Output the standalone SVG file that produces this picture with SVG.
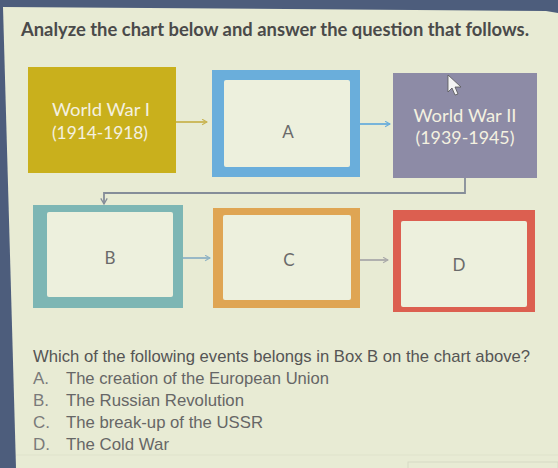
<svg xmlns="http://www.w3.org/2000/svg" width="558" height="468" viewBox="0 0 558 468">
<defs>
<style>
.box{font-family:Lato,"Noto Sans","Liberation Sans",sans-serif;font-size:18px;}
.lbl{fill:#6a6a6a;text-anchor:middle;font-size:17px;}
.wht{fill:#f4f1e0;}
.inner{fill:#edf0dd;}
.q{font-family:"Liberation Sans",Arial,sans-serif;font-size:17px;}
.conn{fill:none;stroke-width:1.8;}
</style>
<marker id="mGold" viewBox="0 0 10 10" refX="9" refY="5" markerWidth="7" markerHeight="7" markerUnits="userSpaceOnUse" orient="auto"><path d="M2,1 L9,5 L2,9" fill="none" stroke="#c9b552" stroke-width="1.6"/></marker>
<marker id="mBlue" viewBox="0 0 10 10" refX="9" refY="5" markerWidth="7" markerHeight="7" markerUnits="userSpaceOnUse" orient="auto"><path d="M2,1 L9,5 L2,9" fill="none" stroke="#6aaedb" stroke-width="1.6"/></marker>
<marker id="mGray" viewBox="0 0 10 10" refX="9" refY="5" markerWidth="8" markerHeight="8" markerUnits="userSpaceOnUse" orient="auto"><path d="M2,1 L9,5 L2,9" fill="none" stroke="#858d99" stroke-width="1.6"/></marker>
<marker id="mTeal" viewBox="0 0 10 10" refX="9" refY="5" markerWidth="7" markerHeight="7" markerUnits="userSpaceOnUse" orient="auto"><path d="M2,1 L9,5 L2,9" fill="none" stroke="#8fb3c4" stroke-width="1.6"/></marker>
<marker id="mLt" viewBox="0 0 10 10" refX="9" refY="5" markerWidth="7" markerHeight="7" markerUnits="userSpaceOnUse" orient="auto"><path d="M2,1 L9,5 L2,9" fill="none" stroke="#aaaaaa" stroke-width="1.6"/></marker>
</defs>
<!-- screen frame -->
<rect x="0" y="0" width="558" height="468" fill="#4d5d7c"/>
<polygon points="3,7 546,11 558,13 558,468 16,468" fill="#e8ebd4"/>
<line x1="16" y1="455" x2="558" y2="455" stroke="#dfe2cb" stroke-width="1"/>
<rect x="408" y="462" width="150" height="10" fill="none" stroke="#d6d9c4" stroke-width="1"/>

<text x="21" y="36" font-family="Lato,'Noto Sans','Liberation Sans',sans-serif" font-weight="bold" font-size="18" fill="#4a4a4a" textLength="508" lengthAdjust="spacingAndGlyphs">Analyze the chart below and answer the question that follows.</text>

<g id="connectors">
<line class="conn" x1="176" y1="122" x2="207" y2="122" stroke="#c9b552" marker-end="url(#mGold)"/>
<line class="conn" x1="360" y1="124" x2="390" y2="124" stroke="#6aaedb" marker-end="url(#mBlue)"/>
<polyline class="conn" points="465,178 465,193 104,193 104,204" stroke="#858d99" marker-end="url(#mGray)"/>
<line class="conn" x1="183" y1="258" x2="210" y2="258" stroke="#8fb3c4" marker-end="url(#mTeal)"/>
<line class="conn" x1="360" y1="260" x2="388" y2="260" stroke="#aaaaaa" marker-end="url(#mLt)"/>
</g>

<g id="ww1" class="box">
<rect x="28" y="67" width="148" height="106" fill="#c9b01c"/>
<text class="wht" x="52" y="116" textLength="98" lengthAdjust="spacingAndGlyphs">World War I</text>
<text class="wht" x="52" y="139" textLength="96" lengthAdjust="spacingAndGlyphs">(1914-1918)</text>
</g>

<g id="boxA" class="box">
<rect x="212" y="70" width="148" height="107" fill="#6aaedb"/>
<rect class="inner" x="224" y="80" width="126" height="87" rx="2"/>
<text class="lbl" x="288" y="138">A</text>
</g>

<g id="ww2" class="box">
<rect x="393" y="73" width="144" height="105" fill="#8d8ba6"/>
<text class="wht" x="465" y="122" text-anchor="middle" textLength="103" lengthAdjust="spacingAndGlyphs" fill="#f2f2f2">World War II</text>
<text class="wht" x="465" y="144" text-anchor="middle" textLength="99" lengthAdjust="spacingAndGlyphs" fill="#f2f2f2">(1939-1945)</text>
</g>

<g id="boxB" class="box">
<rect x="33" y="205" width="150" height="103" fill="#7db6b4"/>
<rect class="inner" x="47" y="212" width="126" height="85" rx="2"/>
<text class="lbl" x="110" y="264">B</text>
</g>

<g id="boxC" class="box">
<rect x="213" y="208" width="147" height="100" fill="#dfa553"/>
<rect class="inner" x="223" y="215" width="128" height="85" rx="2"/>
<text class="lbl" x="289" y="266">C</text>
</g>

<g id="boxD" class="box">
<rect x="393" y="210" width="142" height="102" fill="#dc5f50"/>
<rect class="inner" x="401" y="221" width="126" height="86" rx="2"/>
<text class="lbl" x="459" y="271">D</text>
</g>

<!-- mouse cursor -->
<polygon points="448,75 448,92 452,88 455,95 458,94 455,87 461,87" fill="#f4f4f4" stroke="#555" stroke-width="0.8"/>

<g class="q">
<text x="33" y="362" fill="#555555" textLength="497" lengthAdjust="spacingAndGlyphs">Which of the following events belongs in Box B on the chart above?</text>
<text x="33" y="384" fill="#7a7a7a">A.</text>
<text x="66" y="384" fill="#666666" textLength="263" lengthAdjust="spacingAndGlyphs">The creation of the European Union</text>
<text x="33" y="406" fill="#7a7a7a">B.</text>
<text x="66" y="406" fill="#666666" textLength="178" lengthAdjust="spacingAndGlyphs">The Russian Revolution</text>
<text x="33" y="428" fill="#7a7a7a">C.</text>
<text x="66" y="428" fill="#666666" textLength="197" lengthAdjust="spacingAndGlyphs">The break-up of the USSR</text>
<text x="33" y="450" fill="#7a7a7a">D.</text>
<text x="66" y="450" fill="#666666" textLength="103" lengthAdjust="spacingAndGlyphs">The Cold War</text>
</g>
</svg>
